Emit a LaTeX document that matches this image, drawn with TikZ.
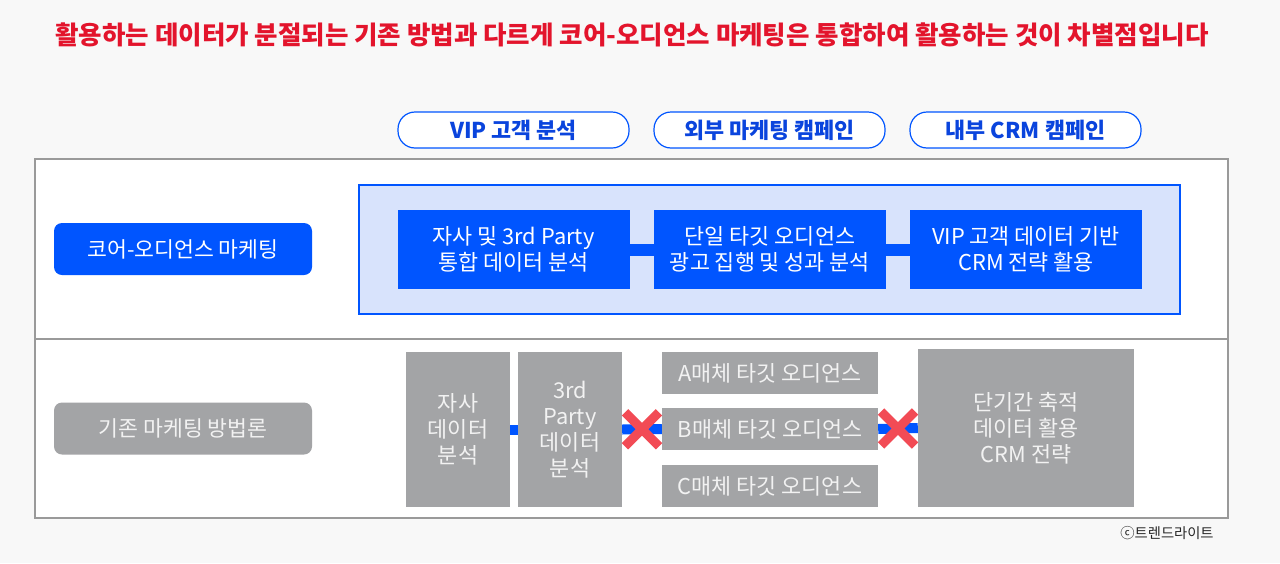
\documentclass[tikz,border=0pt]{standalone}
\usepackage{fontspec}
\setmainfont{Noto Sans CJK KR}
\usetikzlibrary{shapes.misc}
\definecolor{mainblue}{HTML}{0055FF}
\definecolor{panelblue}{HTML}{D8E3FC}
\definecolor{pilltext}{HTML}{0A44DD}
\definecolor{titlered}{HTML}{E3142C}
\definecolor{boxgray}{HTML}{A3A4A6}
\definecolor{framegray}{HTML}{9A9A9A}
\definecolor{bggray}{HTML}{F8F8F8}
\definecolor{xred}{HTML}{F24B55}
\begin{document}
\begin{tikzpicture}[x=1pt,y=-1pt,
  pill/.style={draw=mainblue,line width=1.2pt,fill=white,rounded corners=17pt,minimum width=231pt,minimum height=36pt,inner sep=0pt,text=pilltext,font=\fontsize{21.8}{24}\selectfont\bfseries},
  rowlabel/.style={rounded corners=8pt,minimum width=258pt,minimum height=52pt,inner sep=0pt,font=\fontsize{21.6}{24}\selectfont},
  bluebox/.style={fill=mainblue,text=white,minimum width=232pt,minimum height=79pt,inner sep=0pt,align=center,font=\fontsize{21.8}{26}\selectfont},
  graybox/.style={fill=boxgray,text=white!95!black,inner sep=0pt,align=center,font=\fontsize{21.8}{26}\selectfont},
  band/.style={mainblue,line width=12pt},
  link/.style={mainblue,line width=10pt},
  xmark/.style={cross out,draw=xred,line width=9pt,minimum size=25pt,inner sep=0pt}]
  \fill[bggray](0,0) rectangle (1280,563);
  \node[text=titlered,font=\fontsize{25.5}{30}\selectfont\bfseries] (title) at (632,35) {활용하는 데이터가 분절되는 기존 방법과 다르게 코어-오디언스 마케팅은 통합하여 활용하는 것이 차별점입니다};
  \node[pill] (vip) at (513.5,130) {VIP 고객 분석};
  \node[pill] (outer) at (769.5,130) {외부 마케팅 캠페인};
  \node[pill] (inner) at (1025.5,130) {내부 CRM 캠페인};
  \draw[framegray,line width=1.5pt,fill=white](35,159) rectangle (1228,518);
  \draw[framegray,line width=1.5pt](35,339)--(1228,339);
  \node[rowlabel,fill=mainblue,text=white] (core) at (183,249) {코어-오디언스 마케팅};
  \node[rowlabel,fill=boxgray,text=white!95!black] (old) at (183,428.5) {기존 마케팅 방법론};
  \node[draw=mainblue,line width=1.5pt,fill=panelblue,minimum width=821pt,minimum height=129pt,inner sep=0pt] (panel) at (769.5,249.5) {};
  \node[bluebox] (merge) at (513.5,249.5) {자사 및 3rd Party\\통합 데이터 분석};
  \node[bluebox] (single) at (770,249.5) {단일 타깃 오디언스\\광고 집행 및 성과 분석};
  \node[bluebox] (crm) at (1026,249.5) {VIP 고객 데이터 기반\\CRM 전략 활용};
  \draw[band](merge.east)--(single.west);
  \draw[band](single.east)--(crm.west);
  \node[graybox,minimum width=104pt,minimum height=155pt] (own) at (458,429.5) {자사\\데이터\\분석};
  \node[graybox,minimum width=104pt,minimum height=155pt] (third) at (570,429.5) {3rd\\Party\\데이터\\분석};
  \node[graybox,minimum width=216pt,minimum height=42pt] (amedia) at (770,373) {A매체 타깃 오디언스};
  \node[graybox,minimum width=216pt,minimum height=42pt] (bmedia) at (770,429) {B매체 타깃 오디언스};
  \node[graybox,minimum width=216pt,minimum height=42pt] (cmedia) at (770,486) {C매체 타깃 오디언스};
  \node[graybox,minimum width=216pt,minimum height=158pt] (shortterm) at (1026,428) {단기간 축적\\데이터 활용\\CRM 전략};
  \draw[link](own.east)--(third.west);
  \draw[link](third.east)--node[xmark](cut1){}(bmedia.west);
  \draw[link](bmedia.east)--node[xmark](cut2){}(shortterm.west);
  \node[text=black!85,font=\fontsize{14.3}{16}\selectfont] (copy) at (1167,533) {ⓒ트렌드라이트};
\end{tikzpicture}
\end{document}
